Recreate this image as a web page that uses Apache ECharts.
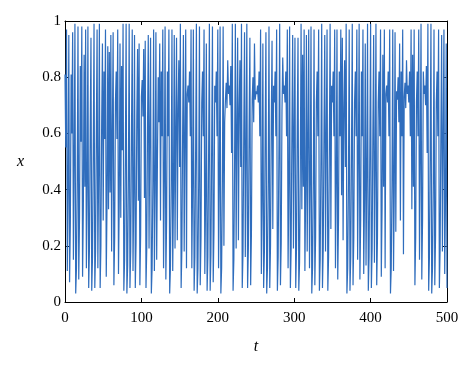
<!DOCTYPE html>
<html>
<head>
<meta charset="utf-8">
<script src="https://cdn.jsdelivr.net/npm/echarts@6/dist/echarts.min.js"></script>
<style>html,body{margin:0;padding:0;background:#fff}#c{width:474px;height:367px}</style>
</head>
<body>
<div id="c"></div>
<script>
// x(t) values, t = 0..500
var xValues = [
0.81,0.55,0.97,0.11,0.40,0.95,0.07,0.28,0.81,0.60,0.96,0.15,0.51,0.99,0.03,0.12,0.43,0.98,0.08,0.30,
0.84,0.57,0.98,0.09,0.33,0.88,0.41,0.97,0.12,0.42,0.98,0.05,0.19,0.62,0.94,0.04,0.16,0.54,0.99,0.05,
0.18,0.59,0.97,0.12,0.46,0.99,0.05,0.20,0.64,0.92,0.29,0.82,0.58,0.97,0.09,0.35,0.91,0.33,0.89,0.39,
0.95,0.18,0.60,0.96,0.06,0.23,0.71,0.82,0.58,0.97,0.10,0.36,0.92,0.30,0.84,0.54,0.99,0.04,0.15,0.51,
0.99,0.03,0.13,0.45,0.99,0.05,0.18,0.59,0.97,0.11,0.39,0.95,0.05,0.21,0.66,0.90,0.36,0.92,0.06,0.24,
0.73,0.79,0.66,0.90,0.37,0.93,0.05,0.19,0.61,0.95,0.19,0.62,0.94,0.03,0.12,0.42,0.97,0.11,0.40,0.96,
0.15,0.51,0.80,0.64,0.92,0.29,0.82,0.59,0.97,0.12,0.42,0.98,0.08,0.29,0.82,0.59,0.97,0.03,0.12,0.42,
0.97,0.11,0.39,0.95,0.19,0.62,0.94,0.22,0.69,0.86,0.48,0.99,0.05,0.19,0.61,0.95,0.18,0.59,0.97,0.12,
0.74,0.77,0.71,0.82,0.59,0.97,0.12,0.42,0.97,0.04,0.16,0.54,0.99,0.03,0.12,0.43,0.98,0.06,0.23,0.71,
0.82,0.59,0.97,0.10,0.36,0.92,0.04,0.16,0.53,0.99,0.04,0.17,0.56,0.98,0.07,0.26,0.77,0.71,0.82,0.59,
0.97,0.12,0.42,0.98,0.03,0.12,0.43,0.98,0.20,0.64,0.72,0.78,0.69,0.86,0.74,0.77,0.70,0.84,0.53,0.99,
0.04,0.15,0.51,0.99,0.19,0.62,0.94,0.22,0.69,0.86,0.48,0.99,0.05,0.18,0.60,0.96,0.16,0.54,0.99,0.05,
0.19,0.62,0.94,0.06,0.24,0.72,0.80,0.64,0.92,0.72,0.75,0.74,0.77,0.71,0.82,0.59,0.97,0.10,0.36,0.92,
0.05,0.18,0.60,0.96,0.03,0.12,0.43,0.98,0.05,0.20,0.64,0.93,0.26,0.77,0.71,0.82,0.59,0.97,0.04,0.16,
0.54,0.99,0.06,0.21,0.68,0.87,0.74,0.77,0.71,0.82,0.59,0.97,0.12,0.42,0.98,0.05,0.19,0.61,0.95,0.19,
0.62,0.94,0.05,0.19,0.62,0.94,0.04,0.14,0.48,0.99,0.33,0.88,0.41,0.97,0.11,0.39,0.95,0.18,0.59,0.97,
0.12,0.42,0.98,0.03,0.12,0.42,0.97,0.06,0.23,0.71,0.82,0.59,0.97,0.04,0.15,0.51,0.99,0.05,0.19,0.61,
0.95,0.18,0.59,0.97,0.04,0.16,0.54,0.99,0.26,0.77,0.71,0.82,0.59,0.97,0.12,0.42,0.97,0.08,0.29,0.82,
0.59,0.97,0.38,0.94,0.22,0.69,0.86,0.48,0.99,0.03,0.12,0.42,0.97,0.04,0.16,0.54,0.99,0.06,0.23,0.71,
0.82,0.59,0.97,0.15,0.51,0.99,0.08,0.29,0.82,0.59,0.97,0.10,0.36,0.92,0.13,0.45,0.99,0.04,0.16,0.54,
0.99,0.05,0.19,0.61,0.95,0.14,0.48,0.99,0.06,0.23,0.71,0.82,0.59,0.97,0.09,0.33,0.88,0.41,0.97,0.12,
0.74,0.77,0.71,0.82,0.59,0.97,0.03,0.12,0.42,0.97,0.11,0.40,0.96,0.25,0.75,0.72,0.80,0.64,0.92,0.29,
0.82,0.59,0.97,0.17,0.73,0.78,0.69,0.86,0.74,0.77,0.71,0.82,0.59,0.97,0.33,0.88,0.41,0.97,0.06,0.23,
0.71,0.82,0.59,0.97,0.15,0.51,0.99,0.08,0.29,0.82,0.74,0.77,0.70,0.84,0.53,0.99,0.04,0.16,0.54,0.99,
0.03,0.12,0.42,0.97,0.06,0.23,0.71,0.82,0.59,0.97,0.05,0.19,0.61,0.95,0.18,0.59,0.97,0.10,0.36,0.92,0.05
];
var xTicks = [0, 100, 200, 300, 400, 500];
var yTicks = [0, 0.2, 0.4, 0.6, 0.8, 1];

var seriesData = xValues.map(function (v, i) { return [i, v]; });
var FONT = '"Liberation Serif", "DejaVu Serif", serif';
function axisCommon() {
  return {
    axisLine: { show: true, onZero: false, lineStyle: { color: '#000', width: 1 } },
    axisTick: { show: true, inside: true, length: 4, lineStyle: { color: '#000' } },
    splitLine: { show: false }
  };
}
var chart = echarts.init(document.getElementById('c'), null, { renderer: 'canvas' });
chart.setOption({
  animation: false,
  backgroundColor: '#fff',
  grid: { left: 65, right: 27, top: 21, bottom: 65, containLabel: false },
  xAxis: [
    Object.assign({
      type: 'value', min: xTicks[0], max: xTicks[xTicks.length - 1], interval: 100,
      position: 'bottom',
      name: 't', nameLocation: 'middle', nameGap: 37,
      nameTextStyle: { fontFamily: FONT, fontStyle: 'italic', fontSize: 16, color: '#000' },
      axisLabel: { fontFamily: FONT, fontSize: 15, color: '#000', margin: 9 }
    }, axisCommon()),
    Object.assign({
      type: 'value', min: xTicks[0], max: xTicks[xTicks.length - 1], interval: 100,
      position: 'top', axisLabel: { show: false }
    }, axisCommon())
  ],
  yAxis: [
    Object.assign({
      type: 'value', min: yTicks[0], max: yTicks[yTicks.length - 1], interval: 0.2,
      position: 'left',
      name: 'x', nameLocation: 'middle', nameGap: 41, nameRotate: 0,
      nameTextStyle: { fontFamily: FONT, fontStyle: 'italic', fontSize: 16, color: '#000' },
      axisLabel: { fontFamily: FONT, fontSize: 15, color: '#000', margin: 4,
        formatter: function (v) { return v === 0 ? '0' : (v === 1 ? '1' : v.toFixed(1)); } }
    }, axisCommon()),
    Object.assign({
      type: 'value', min: yTicks[0], max: yTicks[yTicks.length - 1], interval: 0.2,
      position: 'right', axisLabel: { show: false }
    }, axisCommon())
  ],
  series: [{
    type: 'line',
    data: seriesData,
    xAxisIndex: 0, yAxisIndex: 0,
    showSymbol: false,
    symbol: 'none',
    lineStyle: { color: '#2f6dbd', width: 1.2 },
    z: 1
  }]
});
</script>
</body>
</html>
